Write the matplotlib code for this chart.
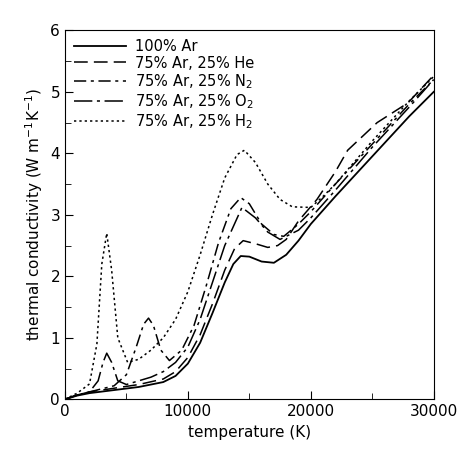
import matplotlib
matplotlib.use("Agg")
import matplotlib.pyplot as plt
from matplotlib.ticker import MultipleLocator

# temperature (K) and thermal conductivity (W m^-1 K^-1)
t_ar = [0, 1000, 2000, 4000, 6000, 8000, 9000, 10000, 11000, 12000, 13000, 13700, 14300, 15000, 16000, 17000, 18000, 19000, 20000, 22000, 25000, 28000, 30000]
k_ar = [0, 0.06, 0.1, 0.15, 0.2, 0.28, 0.38, 0.58, 0.92, 1.4, 1.9, 2.2, 2.33, 2.32, 2.24, 2.22, 2.35, 2.58, 2.85, 3.3, 3.95, 4.6, 5.0]

t_he = [0, 1000, 2000, 4000, 6000, 8000, 9000, 10000, 11000, 12000, 13000, 13800, 14500, 15500, 16500, 17300, 18000, 19000, 20500, 22000, 23000, 25400, 27900, 30000]
k_he = [0, 0.07, 0.12, 0.18, 0.24, 0.33, 0.45, 0.68, 1.05, 1.55, 2.1, 2.45, 2.58, 2.53, 2.47, 2.5, 2.6, 2.9, 3.25, 3.7, 4.05, 4.5, 4.82, 5.27]

t_n2 = [0, 1000, 2000, 3000, 4000, 5000, 5800, 6400, 6800, 7200, 7800, 8500, 9500, 10500, 11500, 12500, 13500, 14300, 15000, 16000, 17000, 17800, 19000, 20000, 22000, 25000, 28000, 30000]
k_n2 = [0, 0.07, 0.12, 0.17, 0.22, 0.4, 0.85, 1.22, 1.32, 1.2, 0.8, 0.63, 0.8, 1.2, 1.85, 2.55, 3.1, 3.28, 3.18, 2.85, 2.68, 2.65, 2.85, 3.05, 3.5, 4.15, 4.8, 5.2]

t_o2 = [0, 1000, 2000, 2700, 3100, 3400, 3800, 4300, 5000, 6000, 7000, 8000, 9000, 10000, 11000, 12000, 13000, 14400, 15500, 16500, 17500, 19000, 20000, 22000, 25000, 28000, 30000]
k_o2 = [0, 0.07, 0.12, 0.3, 0.6, 0.75, 0.6, 0.3, 0.24, 0.3, 0.36, 0.45, 0.6, 0.85, 1.3, 1.9, 2.5, 3.12, 2.95, 2.72, 2.6, 2.75, 2.95, 3.4, 4.1, 4.75, 5.2]

t_h2 = [0, 1000, 2000, 2600, 3000, 3400, 3800, 4300, 5100, 6000, 7000, 8000, 9000, 10000, 11000, 12000, 13000, 14000, 14600, 15500, 16500, 17500, 18500, 20000, 21000, 22000, 25000, 28000, 30000]
k_h2 = [0, 0.1, 0.25, 0.9, 2.2, 2.7, 2.1, 1.0, 0.6, 0.65, 0.8, 1.0, 1.3, 1.75, 2.35, 3.0, 3.6, 3.98, 4.05, 3.85, 3.5, 3.25, 3.13, 3.12, 3.3, 3.5, 4.2, 4.85, 5.25]

labels = ["100% Ar", "75% Ar, 25% He", "75% Ar, 25% N$_2$", "75% Ar, 25% O$_2$", "75% Ar, 25% H$_2$"]

fig = plt.figure(figsize=(4.74, 4.67), dpi=100)
ax = fig.add_axes([0.137, 0.145, 0.778, 0.79])

ax.plot(t_ar, k_ar, '-', color='k', lw=1.3, label=labels[0])
ax.plot(t_he, k_he, color='k', lw=1.1, dashes=(9, 4), label=labels[1])
ax.plot(t_n2, k_n2, color='k', lw=1.1, dashes=(8, 3, 2, 3), label=labels[2])
ax.plot(t_o2, k_o2, color='k', lw=1.1, dashes=(12, 3, 2, 3), label=labels[3])
ax.plot(t_h2, k_h2, color='k', lw=1.1, dashes=(1.5, 2), label=labels[4])

ax.set_xlim(0, 30000)
ax.set_ylim(0, 6)
ax.xaxis.set_major_locator(MultipleLocator(10000))
ax.xaxis.set_minor_locator(MultipleLocator(5000))
ax.yaxis.set_major_locator(MultipleLocator(1))
ax.yaxis.set_minor_locator(MultipleLocator(0.5))
ax.tick_params(which='both', direction='in', top=False, right=False, labelsize=11)
ax.tick_params(which='major', length=6)
ax.tick_params(which='minor', length=4)
ax.set_xlabel("temperature (K)", fontsize=11)
ax.set_ylabel("thermal conductivity (W m$^{-1}$K$^{-1}$)", fontsize=11)
ax.legend(loc='upper left', frameon=False, fontsize=10.5, handlelength=3.6,
          labelspacing=0.1, borderaxespad=0.2, handletextpad=0.6)

fig.savefig("out.png", dpi=100)
